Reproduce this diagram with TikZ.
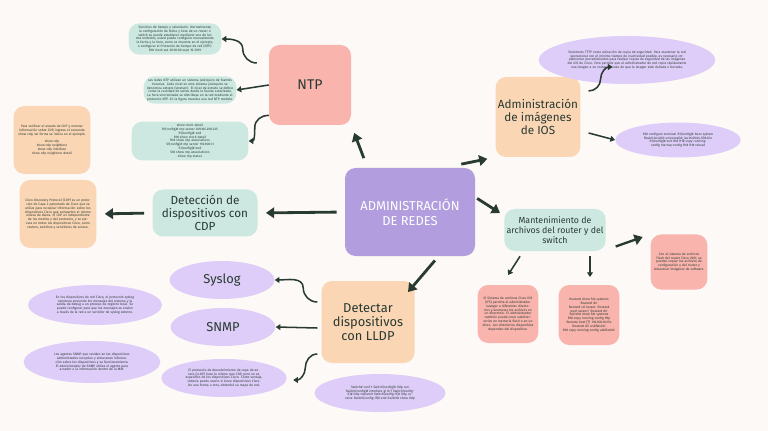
\documentclass[tikz,border=0pt]{standalone}
\usepackage{fontspec}
\setmainfont{Fira Sans}
\usetikzlibrary{shapes.geometric,arrows.meta,positioning}
\definecolor{fondo}{RGB}{253,249,246}
\definecolor{morado}{RGB}{178,158,222}
\definecolor{rosa}{RGB}{248,180,173}
\definecolor{menta}{RGB}{205,232,225}
\definecolor{durazno}{RGB}{251,214,181}
\definecolor{lila}{RGB}{222,205,248}
\definecolor{tinta}{RGB}{40,58,50}
\tikzset{
  caja/.style={rounded corners=9pt, align=center, text=tinta, inner sep=2pt},
  tema/.style={caja, font=\fontsize{10}{11}\selectfont},
  nota/.style={caja, font=\fontsize{2.8}{3.3}\selectfont},
  ovalo/.style={ellipse, fill=lila, align=center, text=tinta, inner sep=-1pt},
  grueso/.style={-{Triangle[length=7pt,width=9pt]}, line width=2.4pt, draw=tinta, shorten <=7pt, shorten >=7pt},
  fino/.style={-{Triangle[length=4pt,width=5pt]}, line width=1.3pt, draw=tinta}
}
\begin{document}
\begin{tikzpicture}[x=0.03cm, y=-0.03cm]
	\fill[fondo] (0,0) rectangle (768,431);
	\useasboundingbox (0,0) rectangle (768,431);
	
	% centro
	\node[tema, fill=morado, text=white, minimum width=130*0.03cm, minimum height=88*0.03cm, font=\fontsize{11}{13}\selectfont] (redes) at (410,212) {ADMINISTRACIÓN\\DE REDES};
	
	% ramas
	\node[tema, fill=rosa, minimum width=82*0.03cm, minimum height=80*0.03cm, font=\fontsize{12}{13}\selectfont] (ntp) at (310,85) {NTP};
	\node[tema, fill=menta, minimum width=105*0.03cm, minimum height=47*0.03cm] (cdp) at (205,213) {Detección de\\dispositivos con\\CDP};
	\node[tema, fill=durazno, minimum width=93*0.03cm, minimum height=82*0.03cm, font=\fontsize{11}{12}\selectfont] (lldp) at (368,322) {Detectar\\dispositivos\\con LLDP};
	\node[tema, fill=durazno, minimum width=83*0.03cm, minimum height=80*0.03cm] (ios) at (538,117) {Administración\\de imágenes\\de IOS};
	\node[tema, fill=menta, minimum width=100*0.03cm, minimum height=42*0.03cm, font=\fontsize{7.5}{8.5}\selectfont] (mant) at (555,230) {Mantenimiento de\\archivos del router y del\\switch};
	\node[ovalo, minimum width=105*0.03cm, minimum height=38*0.03cm, font=\fontsize{11}{12}\selectfont] (syslog) at (222,280) {Syslog};
	\node[ovalo, minimum width=105*0.03cm, minimum height=38*0.03cm, font=\fontsize{11}{12}\selectfont] (snmp) at (223,327) {SNMP};
	
	% notas NTP
	\node[nota, fill=menta, text width=88*0.03cm] (ntpa) at (175,39) {Servicios de tiempo y calendario. Normalmente, la configuración de fecha y hora de un router o switch se puede establecer mediante uno de los dos métodos, usted puede configurar manualmente la fecha y la hora, como se muestra en el ejemplo, o configurar el Protocolo de tiempo de red (NTP).\\R1\# clock set 20:36:00 sept 19 2019};
	\node[nota, fill=menta, text width=88*0.03cm] (ntpb) at (190,90) {Las redes NTP utilizan un sistema jerárquico de fuentes horarias. Cada nivel en este sistema jerárquico se denomina estrato (stratum). El nivel de estrato se define como la cantidad de saltos desde la fuente autorizada. La hora sincronizada se distribuye en la red mediante el protocolo NTP. En la figura muestra una red NTP modelo.};
	\node[nota, fill=menta, text width=112*0.03cm] (ntpc) at (190,141) {show clock detail\\R1(config)\# ntp server 209.165.200.225\\R1(config)\# end\\R1\# show clock detail\\R1\# show ntp associations\\S1(config)\# ntp server 192.168.1.1\\S1(config)\# end\\S1\# show ntp associations\\show ntp status};
	
	% notas CDP
	\node[nota, fill=durazno, text width=72*0.03cm, minimum height=68*0.03cm] (cdpa) at (52,140) {Para verificar el estado de CDP y mostrar información sobre CDP, ingrese el comando show cdp, tal forma se indica en el ejemplo.\\[3pt]show cdp\\show cdp neighbors\\show cdp interface\\show cdp neighbors detail};
	\node[nota, fill=durazno, text width=72*0.03cm, minimum height=68*0.03cm] (cdpb) at (58,214) {Cisco Discovery Protocol (CDP) es un protocolo de Capa 2 patentado de Cisco que se utiliza para recopilar información sobre los dispositivos Cisco que comparten el mismo enlace de datos. El CDP es independiente de los medios y del protocolo, y se ejecuta en todos los dispositivos Cisco, como routers, switches y servidores de acceso.};
	
	% notas LLDP
	\node[ovalo, nota, fill=lila, text width=90*0.03cm, minimum width=115*0.03cm, minimum height=40*0.03cm] (slt) at (95,305) {En los dispositivos de red Cisco, el protocolo syslog comienza enviando los mensajes del sistema y la salida de debug a un proceso de registro local. Se puede configurar para que los mensajes se envíen a través de la red a un servidor de syslog externo.};
	\node[ovalo, nota, fill=lila, text width=92*0.03cm, minimum width=115*0.03cm, minimum height=42*0.03cm] (snt) at (92,362) {Los agentes SNMP que residen en los dispositivos administrados recopilan y almacenan información sobre los dispositivos y su funcionamiento. El administrador de SNMP utiliza el agente para acceder a la información dentro de la MIB.};
	\node[ovalo, nota, fill=lila, text width=84*0.03cm, minimum width=105*0.03cm, minimum height=38*0.03cm] (llt) at (224,378) {El protocolo de descubrimiento de capa de enlace (LLDP) hace lo mismo que CDP, pero no es específico de los dispositivos Cisco. Como ventaja, todavía puede usarlo si tiene dispositivos Cisco. De una forma u otra, obtendrá su mapa de red.};
	\node[ovalo, nota, fill=lila, text width=88*0.03cm, minimum width=112*0.03cm, minimum height=38*0.03cm] (llc) at (380,393) {Switch\# conf t Switch(config)\# lldp run Switch(config)\# interface gi 0/1 Switch(config-if)\# lldp transmit Switch(config-if)\# lldp receive Switch(config-if)\# end Switch\# show lldp};
	
	% notas IOS
	\node[ovalo, nota, fill=lila, text width=120*0.03cm, minimum width=138*0.03cm, minimum height=48*0.03cm] (iosa) at (627,60) {Servidores TFTP como ubicación de copia de seguridad. Para mantener la red operacional con el mínimo tiempo de inactividad posible, es necesario implementar procedimientos para realizar copias de seguridad de las imágenes del IOS de Cisco. Esto permite que el administrador de red copie rápidamente una imagen a un router en caso de que la imagen esté dañada o borrada.};
	\node[ovalo, nota, fill=lila, text width=84*0.03cm, minimum width=105*0.03cm, minimum height=35*0.03cm] (iosb) at (678,140) {R1\# configure terminal R1(config)\# boot system flash0:isr4200-universalk9\_ias.16.09.04.SPA.bin R1(config)\# exit R1\# R1\# copy running-config startup-config R1\# R1\# reload};
	
	% notas mantenimiento
	\node[nota, fill=rosa, text width=56*0.03cm, minimum height=58*0.03cm] (ma) at (508,314) {El Sistema de archivos Cisco IOS (IFS) permite al administrador navegar a diferentes directorios y enumerar los archivos en un directorio. El administrador también puede crear subdirectorios en memoria flash o en un disco. Los directorios disponibles dependen del dispositivo.};
	\node[nota, fill=rosa, text width=56*0.03cm, minimum height=60*0.03cm] (mb) at (589,315) {Router\# show file systems\\Router\# dir\\Router\# cd nvram: Router\# pwd nvram:/ Router\# dir\\Switch\# show file systems\\R1\# copy running-config tftp Remote host []? 192.168.10.254\\Router\# dir usbflash0:\\R1\# copy running-config usbflash0:};
	\node[nota, fill=rosa, text width=52*0.03cm, minimum height=55*0.03cm] (mc) at (679,262) {Con el sistema de archivos Flash del router Cisco 2901, se pueden copiar los archivos de configuración y del router y almacenar imágenes de software.};
	
	% puntos de llegada
	\coordinate (llegaLLDP) at (408,292);
	\coordinate (llegaMant) at (500,213);
	\coordinate (llegaMa) at (508,275);
	\coordinate (llegaMb) at (590,277);
	
	% conectores
	\draw[grueso] (redes.north west) ++(22,-2) coordinate (c1) -- (ntp.south east);
	\draw[grueso] (redes.north east) ++(-22,-2) coordinate (c2) -- (ios.south west);
	\draw[grueso] (redes.west) -- (cdp.east);
	\draw[grueso, shorten >=0pt] (redes.south east) ++(-35,-2) coordinate (c3) -- (llegaLLDP);
	\draw[grueso, shorten >=0pt] (redes.east) ++(-5,-18) coordinate (c4) -- (llegaMant);
	\draw[grueso] (cdp.west) -- (cdpb.east);
	\draw[fino] (mant.south west) ++(16,5) coordinate (c5) -- (llegaMa);
	\draw[fino] (mant.south) ++(35,5) coordinate (c6) -- (llegaMb);
	\draw[grueso, line width=2pt] (mant.south east) ++(2,-2) coordinate (c7) -- (mc.north west);
	\draw[fino] (ntp.west) ++(-12,-22) coordinate (c8) to[out=180,in=-90] ++(-14,-14) coordinate (c9) to[out=90,in=0] (ntpa.east);
	\draw[fino] (ntp.west) -- (ntpb.east);
	\draw[fino] (ntp.south west) ++(0,-10) coordinate (c10) to[out=180,in=90] ++(-14,12) to[out=-90,in=0] (ntpc.east);
	\draw[fino] (ios.east) ++(8,-26) coordinate (c11) to[out=0,in=-90] ++(12,-12) to[out=90,in=180] ++(12,-12) coordinate (c12);
	\draw[fino] (ios.east) ++(8,16) coordinate (c13) -- (iosb.west);
	\draw[fino] (lldp.west) ++(-4,-20) coordinate (c14) to[out=180,in=-90] ++(-14,-14) to[out=90,in=0] (syslog.east);
	\draw[fino] (lldp.west) ++(-4,6) coordinate (c15) -- (snmp.east);
	\draw[fino] (lldp.west) ++(-4,32) coordinate (c16) to[out=180,in=90] ++(-12,14) to[out=-90,in=0] ++(-12,12) coordinate (c17);
\end{tikzpicture}
\end{document}
